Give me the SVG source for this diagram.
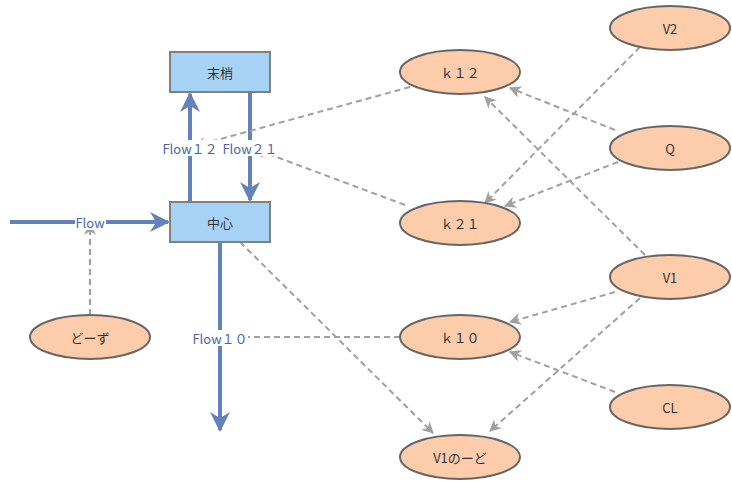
<svg xmlns="http://www.w3.org/2000/svg" width="732" height="484" viewBox="0 0 732 484">
<style>
text{font-family:"Noto Sans CJK JP","DejaVu Sans",sans-serif;font-size:13px;fill:#333;text-anchor:middle;dominant-baseline:central}
.box{fill:#a6d3f5;stroke:#808080;stroke-width:2}
.ell{fill:#fdccaa;stroke:#666;stroke-width:2}
.flow{stroke:#6382bc;stroke-width:4;fill:none;marker-end:url(#fa)}
.dash{stroke:#a0a0a0;stroke-width:2;stroke-dasharray:6,4;fill:none;marker-end:url(#da)}
.fl{fill:#4a66a8}
.bg{fill:#fff}
</style>
<defs>
<marker id="fa" viewBox="0 0 10 10" refX="9" refY="5" markerWidth="5" markerHeight="5" orient="auto" markerUnits="strokeWidth"><path d="M0,0 L10,5 L0,10 L3,5 z" fill="#6382bc"/></marker>
<marker id="da" viewBox="0 0 10 10" refX="9" refY="5" markerWidth="6" markerHeight="6" orient="auto" markerUnits="strokeWidth"><path d="M0,0 L10,5 L0,10 L3,5 z" fill="#a0a0a0"/></marker>
</defs>
<g id="connectors">
<path class="flow" d="M190,202 V94"/>
<path class="flow" d="M250,92 V200"/>
<path class="flow" d="M10,222 H168"/>
<path class="flow" d="M220,242 V430"/>
<path class="dash" d="M410,87 L195,146"/>
<path class="dash" d="M405,205 L255,149"/>
<path class="dash" d="M640,47 L485,203"/>
<path class="dash" d="M615,130 L510,88"/>
<path class="dash" d="M618,162 L505,206"/>
<path class="dash" d="M645,255 L485,97"/>
<path class="dash" d="M615,292 L510,322"/>
<path class="dash" d="M640,298 L490,431"/>
<path class="dash" d="M615,392 L510,352"/>
<path class="dash" d="M240,242 L433,433"/>
<path class="dash" d="M400,337 L236,337"/>
<path class="dash" d="M90,315 L90,224"/>
<rect class="bg" x="75" y="214" width="31" height="16"/><text class="fl" x="90" y="222">Flow</text>
<rect class="bg" x="162" y="140" width="58" height="16"/><text class="fl" x="190" y="148">Flow１２</text>
<rect class="bg" x="222" y="140" width="56" height="16"/><text class="fl" x="250" y="148">Flow２１</text>
<rect class="bg" x="192" y="330" width="56" height="16"/><text class="fl" x="220" y="338">Flow１０</text>
</g>
<g id="n-mattan"><rect class="box" x="170" y="52" width="100" height="40"/><text x="220" y="72">末梢</text></g>
<g id="n-chushin"><rect class="box" x="170" y="202" width="100" height="40"/><text x="220" y="222">中心</text></g>
<g id="n-k12"><ellipse class="ell" cx="460" cy="72" rx="60" ry="22"/><text x="460" y="72">ｋ１２</text></g>
<g id="n-v2"><ellipse class="ell" cx="670" cy="28" rx="60" ry="22"/><text x="670" y="28">V2</text></g>
<g id="n-q"><ellipse class="ell" cx="670" cy="148" rx="60" ry="22"/><text x="670" y="148">Q</text></g>
<g id="n-k21"><ellipse class="ell" cx="460" cy="223" rx="60" ry="22"/><text x="460" y="223">ｋ２１</text></g>
<g id="n-v1"><ellipse class="ell" cx="670" cy="277" rx="60" ry="22"/><text x="670" y="277">V1</text></g>
<g id="n-k10"><ellipse class="ell" cx="460" cy="337" rx="60" ry="22"/><text x="460" y="337">ｋ１０</text></g>
<g id="n-cl"><ellipse class="ell" cx="670" cy="407" rx="60" ry="22"/><text x="670" y="407">CL</text></g>
<g id="n-v1node"><ellipse class="ell" cx="460" cy="457" rx="60" ry="22"/><text x="460" y="457">V1のーど</text></g>
<g id="n-dose"><ellipse class="ell" cx="90" cy="337" rx="60" ry="22"/><text x="90" y="337">どーず</text></g>
</svg>
